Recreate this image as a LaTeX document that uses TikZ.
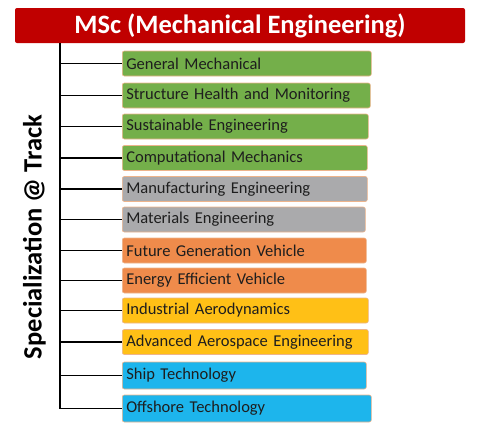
\documentclass[tikz,border=0pt]{standalone}
\usepackage{fontspec}
\setmainfont{Carlito}
\usepackage{tikz}

\definecolor{titlered}{HTML}{C00000}
\definecolor{mechgreen}{HTML}{74AF4A}
\definecolor{mfggrey}{HTML}{AAAAAC}
\definecolor{vehorange}{HTML}{EF8B4B}
\definecolor{aeroyellow}{HTML}{FFC016}
\definecolor{shipblue}{HTML}{1DB5EC}
\definecolor{rimcolor}{HTML}{EDB48C}
\definecolor{labeltext}{HTML}{1E1E1E}

\begin{document}
\begin{tikzpicture}[x=1pt,y=-1pt,
    track/.style={draw=rimcolor,line width=0.6pt,rounded corners=2pt,anchor=west,
        minimum height=25pt,inner xsep=4pt,inner ysep=0pt,align=left,
        text=labeltext,font=\fontsize{16.5}{18}\selectfont},
    branch/.style={black,line width=1.8pt}]
\useasboundingbox (0,0) rectangle (480,424);

    % title bar
    \node[fill=titlered,rounded corners=2pt,minimum width=450pt,minimum height=35pt,
        text=white,font=\fontsize{26.5}{28}\selectfont\bfseries] (title) at (240,25.5)
        {MSc (Mechanical Engineering)};

    % side label
    \node[rotate=90,font=\fontsize{26.5}{28}\selectfont\bfseries] (side) at (34.5,237)
        {Specialization @ Track};

    % tracks
    \node[track,fill=mechgreen,text width=241pt]  (gm)  at (122,63.5)  {General Mechanical};
    \node[track,fill=mechgreen,text width=240pt]  (shm) at (122,95.5)  {Structure Health and Monitoring};
    \node[track,fill=mechgreen,text width=238pt]  (se)  at (122,126.5) {Sustainable Engineering};
    \node[track,fill=mechgreen,text width=237pt]  (cm)  at (122,158)   {Computational Mechanics};
    \node[track,fill=mfggrey,text width=237pt]    (mfg) at (122,189)   {Manufacturing Engineering};
    \node[track,fill=mfggrey,text width=235pt]    (mat) at (122,219.5) {Materials Engineering};
    \node[track,fill=vehorange,text width=236pt]  (fgv) at (122,250.5) {Future Generation Vehicle};
    \node[track,fill=vehorange,text width=236pt]  (eev) at (122,280.5) {Energy Efficient Vehicle};
    \node[track,fill=aeroyellow,text width=238pt] (ia)  at (122,310.5) {Industrial Aerodynamics};
    \node[track,fill=aeroyellow,text width=238pt] (aae) at (122,342)   {Advanced Aerospace Engineering};
    \node[track,fill=shipblue,text width=236pt,minimum height=27pt] (st) at (122,375.5) {Ship Technology};
    \node[track,fill=shipblue,text width=241pt,minimum height=27pt] (ot) at (122,408.5) {Offshore Technology};

    % spine and branches
    \coordinate (spine) at (60,43);
    \draw[branch] (spine) -- (spine |- ot.west);
    \draw[branch] (spine |- gm.west)  -- (gm.west);
    \draw[branch] (spine |- shm.west) -- (shm.west);
    \draw[branch] (spine |- se.west)  -- (se.west);
    \draw[branch] (spine |- cm.west)  -- (cm.west);
    \draw[branch] (spine |- mfg.west) -- (mfg.west);
    \draw[branch] (spine |- mat.west) -- (mat.west);
    \draw[branch] (spine |- fgv.west) -- (fgv.west);
    \draw[branch] (spine |- eev.west) -- (eev.west);
    \draw[branch] (spine |- ia.west)  -- (ia.west);
    \draw[branch] (spine |- aae.west) -- (aae.west);
    \draw[branch] (spine |- st.west)  -- (st.west);
    \draw[branch] (spine |- ot.west)  -- (ot.west);

\end{tikzpicture}
\end{document}
